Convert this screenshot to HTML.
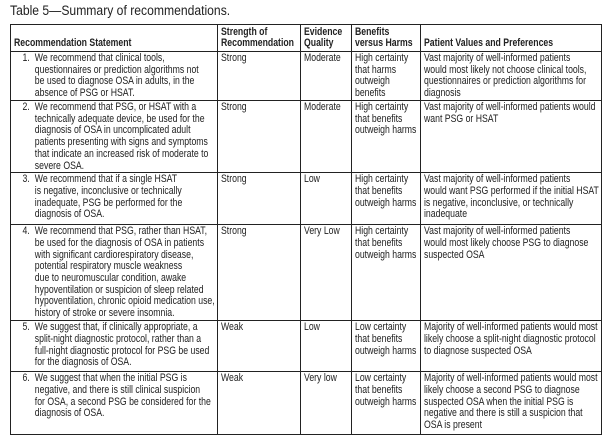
<!DOCTYPE html>
<html><head><meta charset="utf-8"><style>
body{margin:0;width:607px;height:436px;background:#fff;overflow:hidden;font-family:"Liberation Sans",sans-serif;color:#222;}
.t{position:absolute;left:10px;top:3px;font-size:13.5px;transform:scaleX(.9);transform-origin:0 0;white-space:nowrap;}
table{position:absolute;left:10px;top:24px;border-collapse:collapse;table-layout:fixed;width:591px;}
td,th{border:1px solid #222;vertical-align:top;font-size:11.3px;line-height:11.7px;padding:1px 3px 0 3px;text-align:left;font-weight:normal;overflow:hidden;}
th{font-weight:bold;vertical-align:bottom;padding-bottom:1px;}
.s{transform:scaleX(.77);transform-origin:0 0;white-space:nowrap;position:relative;}
.num{position:absolute;left:11px;top:0;}
.tx{margin-left:27px;}
</style></head><body>
<div class="t">Table 5—Summary of recommendations.</div>
<table>
<colgroup><col style="width:207px"><col style="width:83px"><col style="width:51px"><col style="width:69px"><col style="width:181px"></colgroup>
<tr style="height:27px"><th><div class="s">Recommendation Statement</div></th><th><div class="s">Strength of<br>Recommendation</div></th><th><div class="s">Evidence<br>Quality</div></th><th><div class="s">Benefits<br>versus Harms</div></th><th><div class="s">Patient Values and Preferences</div></th></tr>
<tr style="height:49px"><td><div class="s"><span class="num">1.</span><div class="tx">We recommend that clinical tools,<br>questionnaires or prediction algorithms not<br>be used to diagnose OSA in adults, in the<br>absence of PSG or HSAT.</div></div></td><td><div class="s">Strong</div></td><td><div class="s">Moderate</div></td><td><div class="s">High certainty<br>that harms<br>outweigh<br>benefits</div></td><td><div class="s">Vast majority of well-informed patients<br>would most likely not choose clinical tools,<br>questionnaires or prediction algorithms for<br>diagnosis</div></td></tr>
<tr style="height:70px"><td><div class="s"><span class="num">2.</span><div class="tx">We recommend that PSG, or HSAT with a<br>technically adequate device, be used for the<br>diagnosis of OSA in uncomplicated adult<br>patients presenting with signs and symptoms<br>that indicate an increased risk of moderate to<br>severe OSA.</div></div></td><td><div class="s">Strong</div></td><td><div class="s">Moderate</div></td><td><div class="s">High certainty<br>that benefits<br>outweigh harms</div></td><td><div class="s">Vast majority of well-informed patients would<br>want PSG or HSAT</div></td></tr>
<tr style="height:52px"><td><div class="s"><span class="num">3.</span><div class="tx">We recommend that if a single HSAT<br>is negative, inconclusive or technically<br>inadequate, PSG be performed for the<br>diagnosis of OSA.</div></div></td><td><div class="s">Strong</div></td><td><div class="s">Low</div></td><td><div class="s">High certainty<br>that benefits<br>outweigh harms</div></td><td><div class="s">Vast majority of well-informed patients<br>would want PSG performed if the initial HSAT<br>is negative, inconclusive, or technically<br>inadequate</div></td></tr>
<tr style="height:96px"><td><div class="s"><span class="num">4.</span><div class="tx">We recommend that PSG, rather than HSAT,<br>be used for the diagnosis of OSA in patients<br>with significant cardiorespiratory disease,<br>potential respiratory muscle weakness<br>due to neuromuscular condition, awake<br>hypoventilation or suspicion of sleep related<br>hypoventilation, chronic opioid medication use,<br>history of stroke or severe insomnia.</div></div></td><td><div class="s">Strong</div></td><td><div class="s">Very Low</div></td><td><div class="s">High certainty<br>that benefits<br>outweigh harms</div></td><td><div class="s">Vast majority of well-informed patients<br>would most likely choose PSG to diagnose<br>suspected OSA</div></td></tr>
<tr style="height:51px"><td><div class="s"><span class="num">5.</span><div class="tx">We suggest that, if clinically appropriate, a<br>split-night diagnostic protocol, rather than a<br>full-night diagnostic protocol for PSG be used<br>for the diagnosis of OSA.</div></div></td><td><div class="s">Weak</div></td><td><div class="s">Low</div></td><td><div class="s">Low certainty<br>that benefits<br>outweigh harms</div></td><td><div class="s">Majority of well-informed patients would most<br>likely choose a split-night diagnostic protocol<br>to diagnose suspected OSA</div></td></tr>
<tr style="height:63px"><td><div class="s"><span class="num">6.</span><div class="tx">We suggest that when the initial PSG is<br>negative, and there is still clinical suspicion<br>for OSA, a second PSG be considered for the<br>diagnosis of OSA.</div></div></td><td><div class="s">Weak</div></td><td><div class="s">Very low</div></td><td><div class="s">Low certainty<br>that benefits<br>outweigh harms</div></td><td><div class="s">Majority of well-informed patients would most<br>likely choose a second PSG to diagnose<br>suspected OSA when the initial PSG is<br>negative and there is still a suspicion that<br>OSA is present</div></td></tr>
</table>
</body></html>
